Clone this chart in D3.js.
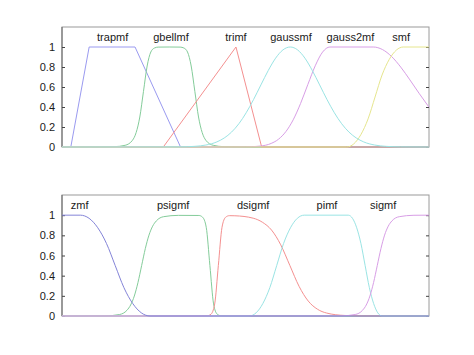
<!DOCTYPE html>
<html><head><meta charset="utf-8">
<script src="https://cdn.jsdelivr.net/npm/d3@7"></script>
<style>body{margin:0;background:#fff}svg{display:block}</style>
</head><body><svg id="c" width="474" height="355"></svg>
<script>
// ---------- data ----------
const yTickValues = [0, 0.2, 0.4, 0.6, 0.8, 1];
const yTickLabels = ["0", "0.2", "0.4", "0.6", "0.8", "1"];

const topNames   = ["trapmf", "gbellmf", "trimf", "gaussmf", "gauss2mf", "smf"];
const topLabelX  = [1.38, 2.97, 4.74, 6.24, 7.86, 9.24];
const bottomNames  = ["zmf", "psigmf", "dsigmf", "pimf", "sigmf"];
const bottomLabelX = [0.48, 3.03, 5.21, 7.22, 8.75];

const trapmf = [[0,0],[0.24,0],[0.74,1],[1.99,1],[3.23,0],[10,0]];
const gbellmf = [[0,0],[0.9,0.0003],[1.42,0.003],[1.72,0.017],[1.92,0.067],[2.02,0.144],[2.12,0.30],[2.22,0.556],[2.32,0.81],[2.42,0.95],[2.52,0.99],[2.62,0.999],[2.92,1],[3.22,0.999],[3.32,0.99],[3.42,0.95],[3.52,0.81],[3.62,0.556],[3.72,0.30],[3.82,0.144],[3.92,0.067],[4.12,0.017],[4.42,0.003],[4.92,0.0003],[10,0]];
const trimf = [[0,0],[2.76,0],[4.74,1],[5.44,0],[10,0]];
const gaussmf = [[0,0],[3.22,0.0012],[3.62,0.0066],[3.92,0.0196],[4.22,0.051],[4.42,0.090],[4.62,0.149],[4.82,0.233],[5.02,0.343],[5.22,0.475],[5.42,0.621],[5.62,0.765],[5.82,0.888],[6.02,0.971],[6.22,1],[6.42,0.971],[6.62,0.888],[6.82,0.765],[7.02,0.621],[7.22,0.475],[7.42,0.343],[7.62,0.233],[7.82,0.149],[8.02,0.090],[8.22,0.051],[8.52,0.0196],[8.82,0.0066],[9.22,0.0012],[10,0]];
const gauss2mf = [[0,0],[5.0,0.001],[5.4,0.0091],[5.7,0.0358],[5.9,0.078],[6.1,0.154],[6.3,0.272],[6.5,0.435],[6.7,0.626],[6.9,0.812],[7.1,0.949],[7.3,1],[8.48,1],[8.73,0.975],[8.98,0.905],[9.23,0.799],[9.48,0.671],[9.73,0.537],[10,0.398]];
const smf = [[0,0],[7.76,0],[7.95,0.031],[8.145,0.125],[8.34,0.281],[8.53,0.5],[8.72,0.719],[8.915,0.875],[9.11,0.969],[9.30,1],[10,1]];

const zmf = [[0,1],[0.5,1],[0.7375,0.969],[0.975,0.875],[1.2125,0.719],[1.45,0.5],[1.6875,0.281],[1.925,0.125],[2.1625,0.031],[2.4,0],[10,0]];
const psigmf = [[0,0],[1.17,0.001],[1.57,0.015],[1.77,0.057],[1.87,0.109],[1.97,0.198],[2.07,0.332],[2.17,0.5],[2.27,0.668],[2.37,0.802],[2.47,0.891],[2.57,0.943],[2.77,0.985],[3.17,0.998],[3.73,0.997],[3.83,0.98],[3.93,0.88],[4.03,0.5],[4.13,0.12],[4.23,0.018],[4.33,0.0025],[4.6,0],[10,0]];
const dsigmf = [[0,0],[3.8,0.0001],[3.96,0.0025],[4.06,0.018],[4.16,0.119],[4.26,0.5],[4.36,0.88],[4.46,0.98],[4.56,0.995],[4.71,0.994],[5.21,0.97],[5.46,0.93],[5.71,0.852],[5.96,0.706],[6.21,0.5],[6.46,0.294],[6.71,0.148],[6.96,0.0675],[7.21,0.0293],[7.71,0.0052],[8.21,0.0009],[10,0]];
const pimf = [[0,0],[5.1,0],[5.2875,0.031],[5.475,0.125],[5.6625,0.281],[5.85,0.5],[6.0375,0.719],[6.225,0.875],[6.4125,0.969],[6.6,1],[7.8,1],[7.915,0.969],[8.03,0.875],[8.145,0.719],[8.26,0.5],[8.375,0.281],[8.49,0.125],[8.605,0.031],[8.72,0],[10,0]];
const sigmf = [[0,0],[7.59,0.0009],[7.99,0.015],[8.19,0.057],[8.29,0.109],[8.39,0.198],[8.49,0.332],[8.59,0.5],[8.69,0.668],[8.79,0.802],[8.89,0.891],[8.99,0.943],[9.19,0.985],[9.59,0.999],[10,1]];

// ---------- styles ----------
const C = {blue:"#9a9af0", green:"#84cc9a", red:"#f49090", cyan:"#9ae4e4", magenta:"#d89ee6", yellow:"#e6e68e"};

const topSeries = [
  {d: trapmf, c: C.blue, lin: true},
  {d: gbellmf, c: C.green},
  {d: trimf, c: C.red, lin: true},
  {d: gauss2mf, c: C.magenta},
  {d: smf, c: C.yellow},
  {d: gaussmf, c: C.cyan}
];
const bottomSeries = [
  {d: psigmf, c: C.green},
  {d: dsigmf, c: C.red},
  {d: pimf, c: C.cyan},
  {d: sigmf, c: C.magenta},
  {d: zmf, c: "#8484d8"}
];

const svg = d3.select("#c");
svg.append("rect").attr("width",474).attr("height",355).attr("fill","#fff");

const x = d3.scaleLinear().domain([0,10]).range([62,429]);

function panel(y0, y1, series, names, labelX){
  const y = d3.scaleLinear().domain([0,1.2]).range([y0,y1]);
  const g = svg.append("g");
  // frame
  g.append("rect").attr("x",x(0)).attr("y",y(1.2)).attr("width",x(10)-x(0)).attr("height",y(0)-y(1.2))
    .attr("fill","none").attr("stroke","#9a9a9a").attr("stroke-width",1);
  g.append("line").attr("x1",x(0)).attr("x2",x(0)).attr("y1",y(0)).attr("y2",y(1.2)).attr("stroke","#666");
  // axes
  const la = d3.axisLeft(y).tickValues(yTickValues).tickFormat((d,i)=>yTickLabels[i]).tickSizeInner(-3).tickSizeOuter(0).tickPadding(7);
  const ga = g.append("g").attr("transform",`translate(${x(0)},0)`).call(la);
  ga.select(".domain").remove();
  ga.selectAll("line").attr("stroke","#444");
  ga.selectAll("text").attr("font-family","Liberation Sans, Arial, sans-serif").attr("font-size",11).attr("fill","#1a1a1a");
  const ra = d3.axisRight(y).tickValues(yTickValues).tickFormat("").tickSizeInner(-3).tickSizeOuter(0);
  const gr = g.append("g").attr("transform",`translate(${x(10)},0)`).call(ra);
  gr.select(".domain").remove();
  gr.selectAll("line").attr("stroke","#444");
  // curves
  series.forEach(s=>{
    const line = d3.line().x(p=>x(p[0])).y(p=>y(p[1])).curve(s.lin ? d3.curveLinear : d3.curveMonotoneX);
    g.append("path").attr("d",line(s.d)).attr("fill","none").attr("stroke",s.c).attr("stroke-width",1);
  });
  // labels
  names.forEach((n,i)=>{
    g.append("text").attr("x",x(labelX[i])).attr("y",y(1.06)).attr("text-anchor","middle")
      .attr("font-family","Liberation Sans, Arial, sans-serif").attr("font-size",11).attr("fill","#1a1a1a").text(n);
  });
}

panel(147, 27, topSeries, topNames, topLabelX);
panel(316, 195, bottomSeries, bottomNames, bottomLabelX);
</script>
</body></html>
